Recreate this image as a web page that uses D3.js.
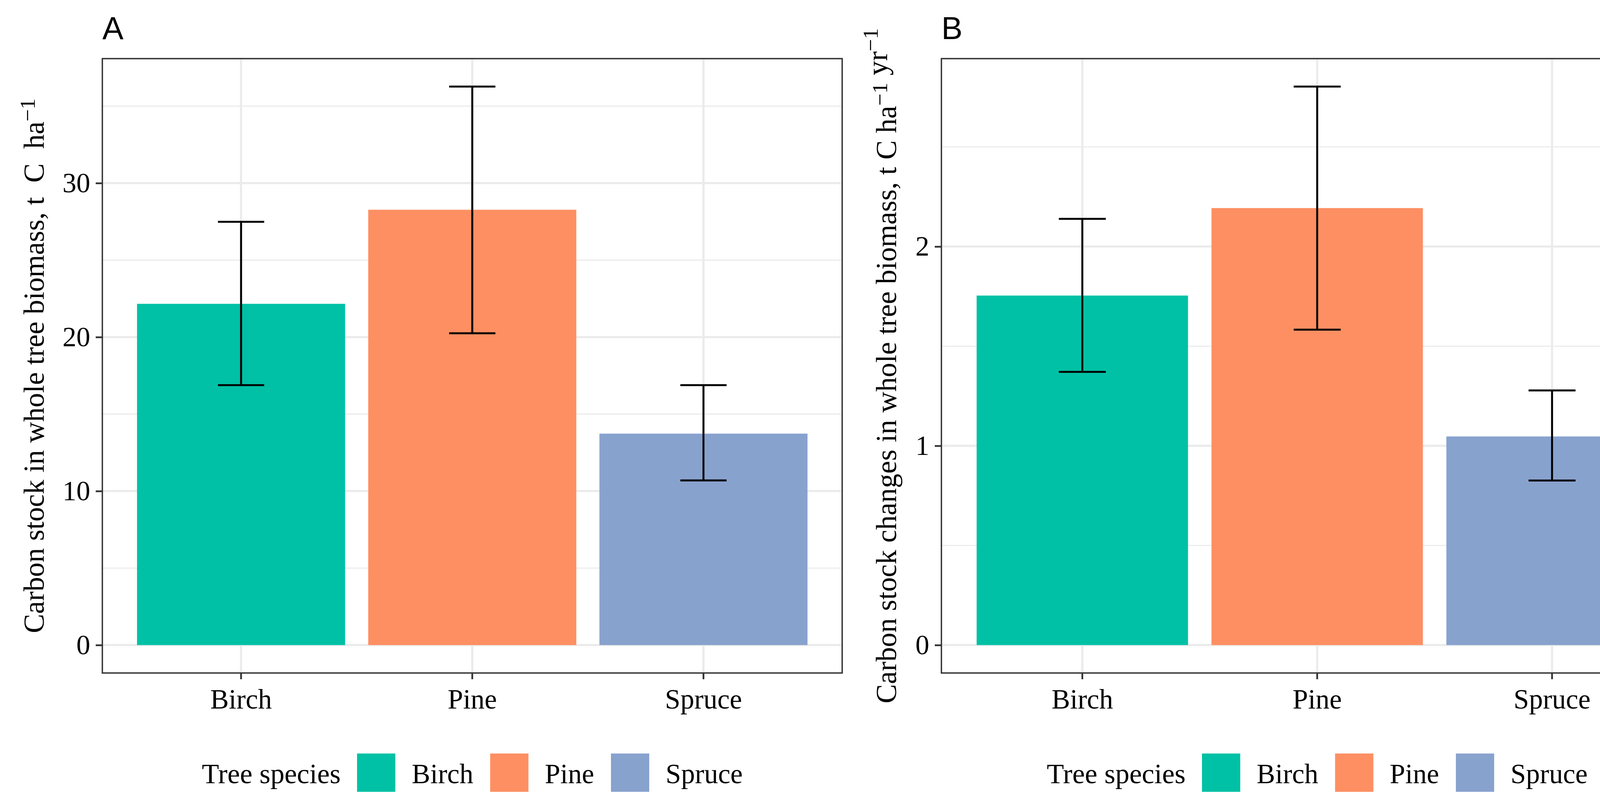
<!DOCTYPE html>
<html lang="en">
<head>
    <meta charset="UTF-8">
    <title>Carbon stock by tree species</title>
    <script src="https://d3js.org/d3.v7.min.js"></script>
    <style>
        body { margin: 0; background: #fff; overflow: hidden; }
        svg { display: block; }
        text { font-family: "Liberation Serif", "Times New Roman", serif; fill: #000; }
    </style>
</head>
<body>
    <svg width="4397" height="2070"></svg>
    <script>
        // data
        const species = ["Birch", "Pine", "Spruce"];
        const colors = ["#00C1A5", "#FE8F62", "#88A2CE"];

        // panel A: carbon stock, t C/ha
        const stockMean = [22.16, 28.27, 13.73];
        const stockLow = [16.88, 20.25, 10.69];
        const stockHigh = [27.49, 36.27, 16.88];
        const stockTicks = [0, 10, 20, 30];
        const stockMinor = [5, 15, 25, 35];

        // panel B: carbon stock changes, t C/ha/yr
        const changeMean = [1.754, 2.193, 1.047];
        const changeLow = [1.371, 1.583, 0.826];
        const changeHigh = [2.139, 2.803, 1.278];
        const changeTicks = [0, 1, 2];
        const changeMinor = [0.5, 1.5, 2.5];

        const legendTitle = "Tree species";

        const svg = d3.select("svg");
        const plotTop = 150, plotBottom = 1722;

        function drawPanel(opts) {
            const g = svg.append("g");
            const x = d3.scaleBand()
                .domain(species)
                .range([opts.left, opts.right])
                .paddingInner(0.1)
                .paddingOuter(0.15);
            const ymax = d3.max(opts.high);
            const y = d3.scaleLinear()
                .domain([-0.05 * ymax, 1.05 * ymax])
                .range([plotBottom, plotTop]);
            const step = x.step();
            const cx = d => x(d) + x.bandwidth() / 2;

            // grid
            g.selectAll(".minor").data(opts.minor).join("line")
                .attr("x1", opts.left).attr("x2", opts.right)
                .attr("y1", d => y(d)).attr("y2", d => y(d))
                .attr("stroke", "#EBEBEB").attr("stroke-width", 2.8);
            g.selectAll(".majorY").data(opts.ticks).join("line")
                .attr("x1", opts.left).attr("x2", opts.right)
                .attr("y1", d => y(d)).attr("y2", d => y(d))
                .attr("stroke", "#EBEBEB").attr("stroke-width", 5.5);
            g.selectAll(".majorX").data(species).join("line")
                .attr("x1", cx).attr("x2", cx)
                .attr("y1", plotTop).attr("y2", plotBottom)
                .attr("stroke", "#EBEBEB").attr("stroke-width", 5.5);

            // bars
            g.selectAll(".bar").data(species).join("rect")
                .attr("x", d => x(d))
                .attr("width", x.bandwidth())
                .attr("y", (d, i) => y(opts.mean[i]))
                .attr("height", (d, i) => y(0) - y(opts.mean[i]))
                .attr("fill", (d, i) => colors[i]);

            // error bars
            const eb = g.selectAll(".err").data(species).join("g")
                .attr("stroke", "#000").attr("stroke-width", 5).attr("fill", "none");
            eb.append("line")
                .attr("x1", cx).attr("x2", cx)
                .attr("y1", (d, i) => y(opts.low[i])).attr("y2", (d, i) => y(opts.high[i]));
            eb.append("line")
                .attr("x1", d => cx(d) - step * 0.1).attr("x2", d => cx(d) + step * 0.1)
                .attr("y1", (d, i) => y(opts.high[i])).attr("y2", (d, i) => y(opts.high[i]));
            eb.append("line")
                .attr("x1", d => cx(d) - step * 0.1).attr("x2", d => cx(d) + step * 0.1)
                .attr("y1", (d, i) => y(opts.low[i])).attr("y2", (d, i) => y(opts.low[i]));

            // border
            g.append("rect")
                .attr("x", opts.left).attr("y", plotTop)
                .attr("width", opts.right - opts.left).attr("height", plotBottom - plotTop)
                .attr("fill", "none").attr("stroke", "#333333").attr("stroke-width", 3.5);

            // axes
            const yAxis = g.append("g")
                .attr("transform", `translate(${opts.left},0)`)
                .call(d3.axisLeft(y).tickValues(opts.ticks).tickFormat(d3.format("~g"))
                    .tickSize(17).tickPadding(14));
            const xAxis = g.append("g")
                .attr("transform", `translate(0,${plotBottom})`)
                .call(d3.axisBottom(x).tickSize(16).tickPadding(25));
            [yAxis, xAxis].forEach(a => {
                a.select(".domain").remove();
                a.selectAll(".tick line").attr("stroke", "#333333").attr("stroke-width", 4.5);
                a.selectAll(".tick text")
                    .attr("fill", "#000")
                    .style("font-family", "'Liberation Serif', serif")
                    .style("font-size", "71px");
            });

            // panel tag
            g.append("text")
                .attr("x", opts.left).attr("y", 100)
                .style("font-family", "'Liberation Sans', Arial, sans-serif")
                .style("font-size", "81px")
                .text(opts.tag);

            // y title with superscripts
            const t = g.append("text")
                .attr("transform", `translate(${opts.titleX},${(plotTop + plotBottom) / 2}) rotate(-90)`)
                .attr("text-anchor", "middle")
                .style("font-size", "74px")
                .style("white-space", "pre");
            opts.title.forEach(part => {
                if (part.sup) {
                    t.append("tspan").attr("dy", "-0.42em").style("font-size", "0.75em").text(part.text);
                    t.append("tspan").attr("dy", "0.315em").text("");
                } else {
                    t.append("tspan").text(part.text);
                }
            });

            // legend
            const lg = g.append("g");
            let lx = 0;
            const lt = lg.append("text").attr("x", lx).attr("y", 2004)
                .style("font-size", "72px").text(legendTitle);
            lx += lt.node().getComputedTextLength() + 42;
            species.forEach((s, i) => {
                lg.append("rect").attr("x", lx).attr("y", 1928)
                    .attr("width", 98).attr("height", 98).attr("fill", colors[i]);
                lx += 98 + 42;
                const lab = lg.append("text").attr("x", lx).attr("y", 2004)
                    .style("font-size", "71px").text(s);
                lx += lab.node().getComputedTextLength() + (i < species.length - 1 ? 43 : 0);
            });
            const mid = (opts.left + opts.right) / 2;
            lg.attr("transform", `translate(${mid - lx / 2},0)`);
        }

        drawPanel({
            left: 262, right: 2156, tag: "A", titleX: 112,
            mean: stockMean, low: stockLow, high: stockHigh,
            ticks: stockTicks, minor: stockMinor,
            title: [{text: "Carbon stock in whole tree biomass, t  C  ha"}, {text: "\u22121", sup: true}]
        });

        drawPanel({
            left: 2410, right: 4334, tag: "B", titleX: 2294,
            mean: changeMean, low: changeLow, high: changeHigh,
            ticks: changeTicks, minor: changeMinor,
            title: [{text: "Carbon stock changes in whole tree biomass, t C ha"}, {text: "\u22121", sup: true},
                    {text: " yr"}, {text: "\u22121", sup: true}]
        });
    </script>
</body>
</html>
